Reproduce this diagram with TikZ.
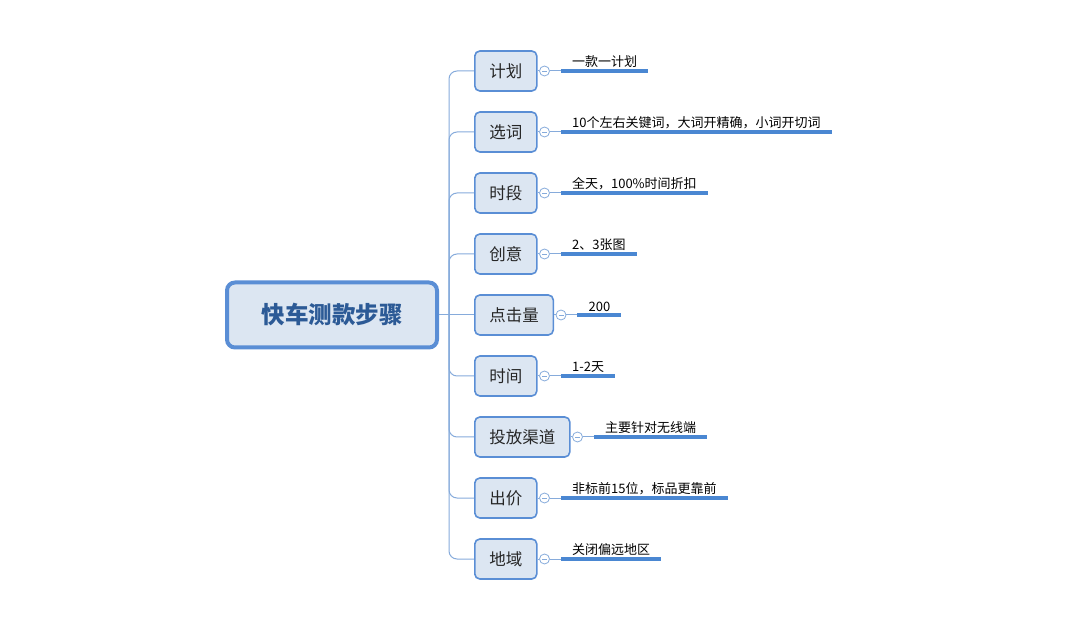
\documentclass[tikz,border=0pt]{standalone}
\usepackage{fontspec}
\setmainfont{Noto Sans CJK SC}
\usepackage{xcolor}
\usetikzlibrary{positioning}

\definecolor{boxline}{HTML}{5A8ED5}
\definecolor{boxfill}{HTML}{DCE6F2}
\definecolor{rootText}{HTML}{2C5A96}
\definecolor{conn}{HTML}{86ABDB}
\definecolor{uline}{HTML}{4A87D2}

\tikzset{
	rootbox/.style={draw=boxline, fill=boxfill, line width=4pt, rounded corners=8pt,
		minimum width=210pt, minimum height=65pt, text=rootText,
		font=\fontsize{23.5}{26}\selectfont\bfseries},
	branch/.style={draw=boxline, fill=boxfill, line width=1.6pt, rounded corners=5pt,
		minimum height=40pt, inner xsep=14.5pt, text=black!85,
		font=\fontsize{16.5}{18}\selectfont, anchor=west},
	fold/.style={circle, draw=conn, fill=white, line width=0.8pt, minimum size=10pt,
		inner sep=0pt, path picture={\draw[conn, line width=0.8pt]
			([xshift=2.5pt]path picture bounding box.west) --
			([xshift=-2.5pt]path picture bounding box.east);}},
	leaf/.style={anchor=south west, inner xsep=11pt, inner ysep=3pt,
		font=\fontsize{13}{15}\selectfont},
	link/.style={draw=conn, line width=1pt},
	underl/.style={draw=uline, line width=3.2pt}
}

\begin{document}
\begin{tikzpicture}[x=1pt,y=-1pt]
			%\draw[help lines] (0,0) grid (1080,620);
			\useasboundingbox (0,0) rectangle (1080,620);
			
				\node[rootbox] (root) at (332,315) {快车测款步骤};
				\coordinate (trunk) at (449,315);
				
				\node[branch] (jihua)  at (474,71)  {计划};
				\node[branch] (xuanci) at (474,132) {选词};
				\node[branch] (shiduan) at (474,193) {时段};
				\node[branch] (chuangyi) at (474,254) {创意};
				\node[branch] (dianji) at (474,315) {点击量};
				\node[branch] (shijian) at (474,376) {时间};
				\node[branch] (qudao)  at (474,437) {投放渠道};
				\node[branch] (chujia) at (474,498) {出价};
				\node[branch] (diyu)   at (474,559) {地域};
				
				\node[fold, right=1.5pt of jihua]    (jihua-c) {};
				\node[fold, right=1.5pt of xuanci]   (xuanci-c) {};
				\node[fold, right=1.5pt of shiduan]  (shiduan-c) {};
				\node[fold, right=1.5pt of chuangyi] (chuangyi-c) {};
				\node[fold, right=1.5pt of dianji]   (dianji-c) {};
				\node[fold, right=1.5pt of shijian]  (shijian-c) {};
				\node[fold, right=1.5pt of qudao]    (qudao-c) {};
				\node[fold, right=1.5pt of chujia]   (chujia-c) {};
				\node[fold, right=1.5pt of diyu]     (diyu-c) {};
				
				\node[leaf] (jihua-l)    at ([xshift=11pt]jihua-c.east)    {一款一计划};
				\node[leaf] (xuanci-l)   at ([xshift=11pt]xuanci-c.east)   {10个左右关键词，大词开精确，小词开切词};
				\node[leaf] (shiduan-l)  at ([xshift=11pt]shiduan-c.east)  {全天，100\%时间折扣};
				\node[leaf] (chuangyi-l) at ([xshift=11pt]chuangyi-c.east) {2、3张图};
				\node[leaf] (dianji-l)   at ([xshift=11pt]dianji-c.east)   {200};
				\node[leaf] (shijian-l)  at ([xshift=11pt]shijian-c.east)  {1-2天};
				\node[leaf] (qudao-l)    at ([xshift=11pt]qudao-c.east)    {主要针对无线端};
				\node[leaf] (chujia-l)   at ([xshift=11pt]chujia-c.east)   {非标前15位，标品更靠前};
				\node[leaf] (diyu-l)     at ([xshift=11pt]diyu-c.east)     {关闭偏远地区};
				
				% trunk to the steps
				\draw[link] (root.east) -- (dianji.west);
				\foreach \b in {jihua,xuanci,shiduan,chuangyi,shijian,qudao,chujia,diyu}
					\draw[link, rounded corners=8pt] (trunk) |- (\b.west);
				
				% step to its note
				\foreach \b in {jihua,xuanci,shiduan,chuangyi,dianji,shijian,qudao,chujia,diyu}{
					\draw[link] (\b.east) -- (\b-c);
					\draw[link] (\b-c) -- (\b-l.south west);
					\draw[underl] (\b-l.south west) -- (\b-l.south east);
				}
			
			\end{tikzpicture}
\end{document}
